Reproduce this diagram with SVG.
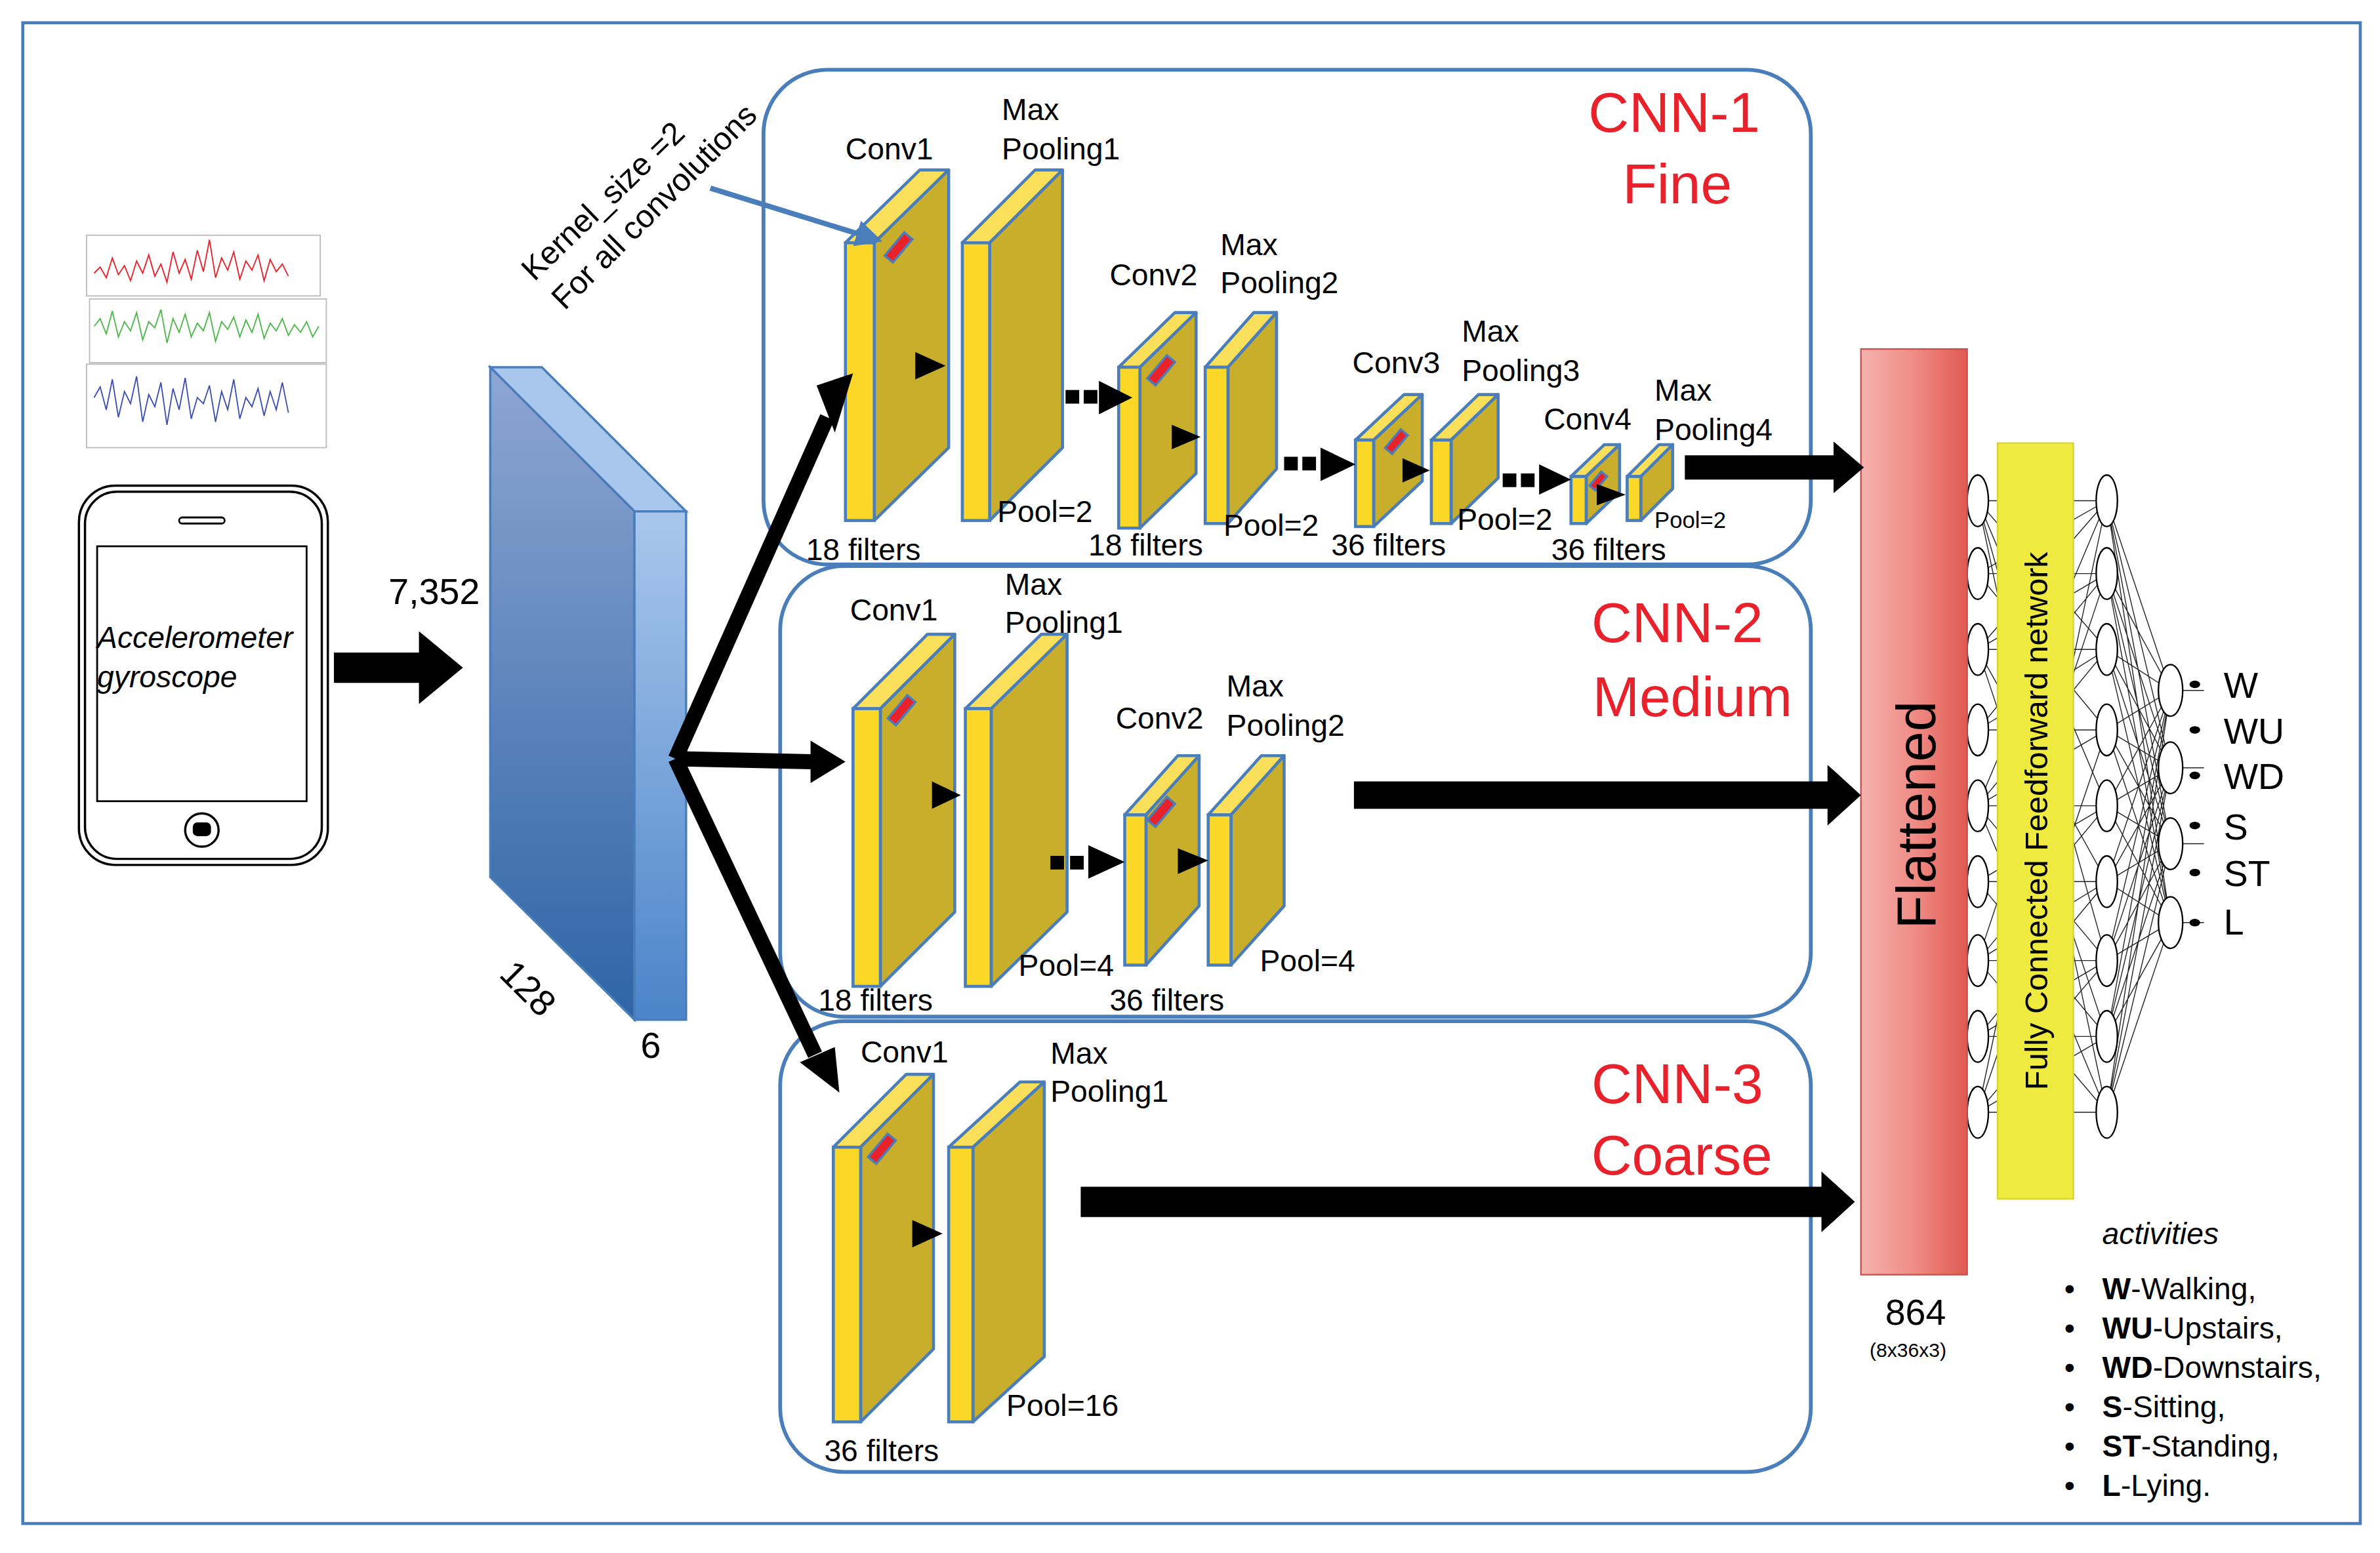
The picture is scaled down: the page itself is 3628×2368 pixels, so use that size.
<svg xmlns="http://www.w3.org/2000/svg" width="3628" height="2368" viewBox="0 0 3628 2368">
<defs>
<style>
.t{font-family:"Liberation Sans",Arial,sans-serif;fill:#000}
.l{font-size:20px}
.r{font-size:37px;fill:#E8212A;text-anchor:middle}
.top{fill:#FAE05A;stroke:#4A7EBB;stroke-width:2;stroke-linejoin:round}
.side{fill:#C9AE2C;stroke:#4A7EBB;stroke-width:2;stroke-linejoin:round}
.front{fill:#FBD827;stroke:#4A7EBB;stroke-width:2}
.panel{fill:none;stroke:#4A7EBB;stroke-width:2.5}
.ker{fill:#E8212A;stroke:#4A7EBB;stroke-width:1.5}
.nn{stroke:#222;stroke-width:0.6;fill:none}
.neu{fill:#fff;stroke:#000;stroke-width:1}
</style>
<linearGradient id="blueSide" x1="0" y1="0" x2="0" y2="1"><stop offset="0" stop-color="#8EA6D2"/><stop offset="1" stop-color="#2E64A6"/></linearGradient>
<linearGradient id="blueFront" x1="0" y1="0" x2="0" y2="1"><stop offset="0" stop-color="#A9C7EC"/><stop offset="1" stop-color="#4B84C9"/></linearGradient>
<linearGradient id="red" x1="0" y1="0" x2="1" y2="0"><stop offset="0" stop-color="#F6B2AE"/><stop offset="0.5" stop-color="#F08C86"/><stop offset="1" stop-color="#DF5A52"/></linearGradient>
<marker id="bh" viewBox="0 0 10 10" refX="8" refY="5" markerWidth="5" markerHeight="5" orient="auto"><path d="M0,0 L10,5 L0,10 z" fill="#4A7EBB"/></marker>
</defs>
<rect width="3628" height="2368" fill="#fff"/>
<g transform="scale(2.3138)">
<rect x="15" y="15" width="1540" height="989" fill="none" stroke="#4A7EBB" stroke-width="2"/>

<g id="graphs">
<rect x="57" y="155" width="154" height="40" fill="#fff" stroke="#bbb" stroke-width="0.8"/>
<rect x="59" y="197" width="156" height="42" fill="#fff" stroke="#bbb" stroke-width="0.8"/>
<rect x="57" y="240" width="158" height="55" fill="#fff" stroke="#bbb" stroke-width="0.8"/>
<polyline fill="none" stroke="#E8212A" stroke-width="0.8" points="62,180 66,176 70,183 74,170 78,181 82,175 86,185 90,172 94,180 98,168 102,182 106,174 110,186 114,166 118,180 122,171 126,184 130,165 134,179 138,158 142,183 146,170 150,178 154,166 158,184 162,172 166,178 170,168 174,185 178,171 182,179 186,174 190,182"/>
<polyline fill="none" stroke="#4CB84A" stroke-width="0.8" points="62,215 66,210 70,220 74,205 78,222 82,212 86,218 90,206 94,224 98,212 102,216 106,204 110,226 114,210 118,219 122,207 126,222 130,213 134,218 138,206 142,225 146,212 150,217 154,209 158,222 162,211 166,219 170,207 174,223 178,213 182,218 186,210 190,221 194,214 198,219 202,212 206,222 210,215"/>
<polyline fill="none" stroke="#3B4FB5" stroke-width="0.8" points="62,262 66,255 70,270 74,250 78,275 82,258 86,266 90,248 94,278 98,260 102,268 106,252 110,280 114,256 118,270 122,249 126,276 130,262 134,266 138,254 142,278 146,258 150,270 154,250 158,276 162,262 166,268 170,256 174,274 178,258 182,270 186,252 190,272"/>
</g>

<g id="phone">
<rect x="52" y="320" width="164" height="250" rx="24" fill="#fff" stroke="#000" stroke-width="1.5"/>
<rect x="56" y="324" width="156" height="242" rx="21" fill="none" stroke="#000" stroke-width="1.5"/>
<rect x="64" y="360" width="138" height="168" fill="#fff" stroke="#000" stroke-width="1.2"/>
<rect x="118" y="341" width="30" height="4" rx="2" fill="#fff" stroke="#000" stroke-width="1.2"/>
<circle cx="133" cy="547" r="11" fill="#fff" stroke="#000" stroke-width="1.5"/>
<rect x="127" y="542" width="12" height="9" rx="3" fill="#000"/>
<text class="t" x="64" y="427" font-size="20" font-style="italic">Accelerometer</text>
<text class="t" x="64" y="453" font-size="20" font-style="italic">gyroscope</text>
</g>

<g id="input">
<polygon points="323,242 357,242 452,337 418,337" fill="#A9C7EC" stroke="#4A7EBB" stroke-width="1.5"/>
<polygon points="323,242 418,337 418,672 323,578" fill="url(#blueSide)" stroke="#4A7EBB" stroke-width="1.5"/>
<rect x="418" y="337" width="34" height="335" fill="url(#blueFront)" stroke="#4A7EBB" stroke-width="1.5"/>
<text class="t" x="256" y="398" font-size="24">7,352</text>
<text class="t" x="0" y="0" font-size="24" transform="translate(328,643) rotate(45)">128</text>
<text class="t" x="422" y="697" font-size="24">6</text>
</g>

<g id="panels">
<rect class="panel" x="503" y="46" width="690" height="326" rx="42"/>
<rect class="panel" x="514" y="373" width="679" height="297" rx="42"/>
<rect class="panel" x="514" y="673" width="679" height="297" rx="42"/>
</g>

<g id="cnn1">
<polygon class="top" points="557,160 606,112 625,112 576,160"/><polygon class="side" points="576,160 625,112 625,295 576,343"/><rect class="front" x="557" y="160" width="19" height="183"/>
<polygon class="top" points="634,160 682,112 700,112 652,160"/><polygon class="side" points="652,160 700,112 700,295 652,343"/><rect class="front" x="634" y="160" width="18" height="183"/>
<polygon class="top" points="737,242 774,206 788,206 751,242"/><polygon class="side" points="751,242 788,206 788,312 751,348"/><rect class="front" x="737" y="242" width="14" height="106"/>
<polygon class="top" points="794,242 826,206 841,206 809,242"/><polygon class="side" points="809,242 841,206 841,309 809,345"/><rect class="front" x="794" y="242" width="15" height="103"/>
<polygon class="top" points="893,290 925,260 937,260 905,290"/><polygon class="side" points="905,290 937,260 937,317 905,347"/><rect class="front" x="893" y="290" width="12" height="57"/>
<polygon class="top" points="943,290 974,260 987,260 956,290"/><polygon class="side" points="956,290 987,260 987,315 956,345"/><rect class="front" x="943" y="290" width="13" height="55"/>
<polygon class="top" points="1035,314 1057,293 1067,293 1045,314"/><polygon class="side" points="1045,314 1067,293 1067,324 1045,345"/><rect class="front" x="1035" y="314" width="10" height="31"/>
<polygon class="top" points="1072,314 1093,293 1102,293 1081,314"/><polygon class="side" points="1081,314 1102,293 1102,322 1081,343"/><rect class="front" x="1072" y="314" width="9" height="29"/>
<rect class="ker" x="-3.5" y="-10" width="7" height="20" transform="translate(592,163) rotate(40)"/>
<rect class="ker" x="-3.5" y="-10" width="7" height="20" transform="translate(765,244) rotate(40)"/>
<rect class="ker" x="-3" y="-8" width="6" height="16" transform="translate(920,291) rotate(40)"/>
<rect class="ker" x="-2.5" y="-6" width="5" height="12" transform="translate(1053,317) rotate(40)"/>
<polygon points="603,232 623,241 603,250"/>
<polygon points="772,280 791,288 772,296"/>
<polygon points="924,302 942,310 924,318"/>
<polygon points="1052,319 1071,326 1052,333"/>
<rect x="702" y="257" width="9" height="9"/><rect x="714" y="257" width="9" height="9"/><polygon points="724,251 746,262 724,273"/>
<rect x="846" y="301" width="9" height="9"/><rect x="858" y="301" width="9" height="9"/><polygon points="870,295 893,306 870,317"/>
<rect x="990" y="312" width="9" height="9"/><rect x="1002" y="312" width="9" height="9"/><polygon points="1014,306 1035,316 1014,326"/>
<text class="t l" x="557" y="105">Conv1</text>
<text class="t l" x="660" y="79">Max</text><text class="t l" x="660" y="105">Pooling1</text>
<text class="t l" x="731" y="188">Conv2</text>
<text class="t l" x="804" y="168">Max</text><text class="t l" x="804" y="193">Pooling2</text>
<text class="t l" x="891" y="246">Conv3</text>
<text class="t l" x="963" y="225">Max</text><text class="t l" x="963" y="251">Pooling3</text>
<text class="t l" x="1017" y="283">Conv4</text>
<text class="t l" x="1090" y="264">Max</text><text class="t l" x="1090" y="290">Pooling4</text>
<text class="t l" x="657" y="344">Pool=2</text>
<text class="t l" x="531" y="369">18 filters</text>
<text class="t l" x="717" y="366">18 filters</text>
<text class="t l" x="806" y="353">Pool=2</text>
<text class="t l" x="877" y="366">36 filters</text>
<text class="t l" x="960" y="349">Pool=2</text>
<text class="t l" x="1022" y="369">36 filters</text>
<text class="t" x="1090" y="348" font-size="15">Pool=2</text>
<text class="t r" x="1103" y="87">CNN-1</text>
<text class="t r" x="1105" y="134">Fine</text>
</g>

<g id="cnn2">
<polygon class="top" points="562,467 611,418 629,418 580,467"/><polygon class="side" points="580,467 629,418 629,601 580,650"/><rect class="front" x="562" y="467" width="18" height="183"/>
<polygon class="top" points="636,467 686,418 703,418 653,467"/><polygon class="side" points="653,467 703,418 703,601 653,650"/><rect class="front" x="636" y="467" width="17" height="183"/>
<polygon class="top" points="741,537 776,498 790,498 755,537"/><polygon class="side" points="755,537 790,498 790,597 755,636"/><rect class="front" x="741" y="537" width="14" height="99"/>
<polygon class="top" points="796,537 831,498 846,498 811,537"/><polygon class="side" points="811,537 846,498 846,597 811,636"/><rect class="front" x="796" y="537" width="15" height="99"/>
<rect class="ker" x="-3.5" y="-10" width="7" height="20" transform="translate(594,468) rotate(40)"/>
<rect class="ker" x="-3.5" y="-10" width="7" height="20" transform="translate(765,535) rotate(40)"/>
<polygon points="614,515 633,524 614,533"/>
<polygon points="776,559 796,567 776,576"/>
<rect x="692" y="564" width="9" height="9"/><rect x="705" y="564" width="9" height="9"/><polygon points="717,557 741,568 717,579"/>
<text class="t l" x="560" y="409">Conv1</text>
<text class="t l" x="662" y="392">Max</text><text class="t l" x="662" y="417">Pooling1</text>
<text class="t l" x="735" y="480">Conv2</text>
<text class="t l" x="808" y="459">Max</text><text class="t l" x="808" y="485">Pooling2</text>
<text class="t l" x="539" y="666">18 filters</text>
<text class="t l" x="671" y="643">Pool=4</text>
<text class="t l" x="731" y="666">36 filters</text>
<text class="t l" x="830" y="640">Pool=4</text>
<text class="t r" x="1105" y="423">CNN-2</text>
<text class="t r" x="1115" y="472">Medium</text>
</g>

<g id="cnn3">
<polygon class="top" points="549,756 597,708 615,708 567,756"/><polygon class="side" points="567,756 615,708 615,889 567,937"/><rect class="front" x="549" y="756" width="18" height="181"/>
<polygon class="top" points="625,756 672,713 688,713 641,756"/><polygon class="side" points="641,756 688,713 688,894 641,937"/><rect class="front" x="625" y="756" width="16" height="181"/>
<rect class="ker" x="-3.5" y="-10" width="7" height="20" transform="translate(581,757) rotate(40)"/>
<polygon points="601,804 621,813 601,822"/>
<text class="t l" x="567" y="700">Conv1</text>
<text class="t l" x="692" y="701">Max</text><text class="t l" x="692" y="726">Pooling1</text>
<text class="t l" x="543" y="963">36 filters</text>
<text class="t l" x="663" y="933">Pool=16</text>
<text class="t r" x="1105" y="727">CNN-3</text>
<text class="t r" x="1108" y="774">Coarse</text>
</g>

<g id="kernelnote">
<text class="t" font-size="21" transform="translate(352,186) rotate(-44)">Kernel_size =2</text>
<text class="t" font-size="21" transform="translate(372,205) rotate(-45)">For all convolutions</text>
<line x1="468" y1="124" x2="578" y2="158" stroke="#4A7EBB" stroke-width="3.5" marker-end="url(#bh)"/>
</g>

<g id="network">
<g class="nn">
<path d="M1296,330 L1303,330 M1296,378 L1303,378 M1296,428 L1303,428 M1296,481 L1303,481 M1296,531 L1303,531 M1296,581 L1303,581 M1296,633 L1303,633 M1296,683 L1303,683 M1296,733 L1303,733"/>
<path d="M1303,330 L1388,330 L1303,378 L1388,378 L1303,428 L1388,428 L1303,481 L1388,481 L1303,531 L1388,531 L1303,581 L1388,581 L1303,633 L1388,633 L1303,683 L1388,683 L1303,733 L1388,733"/>
<path d="M1303,330 L1388,428 M1303,330 L1388,531 M1303,330 L1388,633 M1303,330 L1388,733 M1303,428 L1388,330 M1303,428 L1388,581 M1303,428 L1388,683 M1303,531 L1388,330 M1303,531 L1388,428 M1303,531 L1388,633 M1303,531 L1388,733 M1303,633 L1388,378 M1303,633 L1388,531 M1303,633 L1388,733 M1303,733 L1388,330 M1303,733 L1388,481 M1303,733 L1388,633 M1303,378 L1388,481 M1303,481 L1388,378 M1303,581 L1388,683 M1303,683 L1388,581"/>
<path d="M1388,330 L1430,455 M1388,330 L1430,506 M1388,330 L1430,556 M1388,330 L1430,608 M1388,378 L1430,455 M1388,378 L1430,506 M1388,378 L1430,556 M1388,378 L1430,608 M1388,428 L1430,455 M1388,428 L1430,506 M1388,428 L1430,556 M1388,428 L1430,608 M1388,481 L1430,455 M1388,481 L1430,506 M1388,481 L1430,556 M1388,481 L1430,608 M1388,531 L1430,455 M1388,531 L1430,506 M1388,531 L1430,556 M1388,531 L1430,608 M1388,581 L1430,455 M1388,581 L1430,506 M1388,581 L1430,556 M1388,581 L1430,608 M1388,633 L1430,455 M1388,633 L1430,506 M1388,633 L1430,556 M1388,633 L1430,608 M1388,683 L1430,455 M1388,683 L1430,506 M1388,683 L1430,556 M1388,683 L1430,608 M1388,733 L1430,455 M1388,733 L1430,506 M1388,733 L1430,556 M1388,733 L1430,608"/>
<path d="M1430,455 L1452,455 M1430,506 L1452,506 M1430,556 L1452,556 M1430,608 L1452,608"/>
</g>
<g class="neu">
<ellipse cx="1303" cy="330" rx="7" ry="17"/><ellipse cx="1303" cy="378" rx="7" ry="17"/><ellipse cx="1303" cy="428" rx="7" ry="17"/><ellipse cx="1303" cy="481" rx="7" ry="17"/><ellipse cx="1303" cy="531" rx="7" ry="17"/><ellipse cx="1303" cy="581" rx="7" ry="17"/><ellipse cx="1303" cy="633" rx="7" ry="17"/><ellipse cx="1303" cy="683" rx="7" ry="17"/><ellipse cx="1303" cy="733" rx="7" ry="17"/>
<ellipse cx="1388" cy="330" rx="7" ry="17"/><ellipse cx="1388" cy="378" rx="7" ry="17"/><ellipse cx="1388" cy="428" rx="7" ry="17"/><ellipse cx="1388" cy="481" rx="7" ry="17"/><ellipse cx="1388" cy="531" rx="7" ry="17"/><ellipse cx="1388" cy="581" rx="7" ry="17"/><ellipse cx="1388" cy="633" rx="7" ry="17"/><ellipse cx="1388" cy="683" rx="7" ry="17"/><ellipse cx="1388" cy="733" rx="7" ry="17"/>
<ellipse cx="1430" cy="455" rx="8" ry="17"/><ellipse cx="1430" cy="506" rx="8" ry="17"/><ellipse cx="1430" cy="556" rx="8" ry="17"/><ellipse cx="1430" cy="608" rx="8" ry="17"/>
</g>
<g fill="#000"><ellipse cx="1446" cy="451" rx="3.5" ry="2.5"/><ellipse cx="1446" cy="481" rx="3.5" ry="2.5"/><ellipse cx="1446" cy="511" rx="3.5" ry="2.5"/><ellipse cx="1446" cy="544" rx="3.5" ry="2.5"/><ellipse cx="1446" cy="575" rx="3.5" ry="2.5"/><ellipse cx="1446" cy="608" rx="3.5" ry="2.5"/></g>
<g class="t" font-size="24"><text x="1465" y="460">W</text><text x="1465" y="490">WU</text><text x="1465" y="520">WD</text><text x="1465" y="553">S</text><text x="1465" y="584">ST</text><text x="1465" y="616">L</text></g>
</g>

<g id="flattened">
<rect x="1226" y="230" width="70" height="610" fill="url(#red)" stroke="#C9504A" stroke-width="1"/>
<text class="t" font-size="36" text-anchor="middle" transform="translate(1275,537) rotate(-90)">Flattened</text>
<text class="t" x="1262" y="873" font-size="24" text-anchor="middle">864</text>
<text class="t" x="1257" y="894" font-size="13" text-anchor="middle">(8x36x3)</text>
</g>

<g id="fc">
<rect x="1316" y="292" width="50" height="498" fill="#EEEA3F" stroke="#D8D436" stroke-width="1"/>
<text class="t" font-size="21" text-anchor="middle" transform="translate(1349,541) rotate(-90)">Fully Connected  Feedforward network</text>
</g>

<g id="legend" class="t" font-size="20">
<text x="1385" y="820" font-style="italic">activities</text>
<text x="1360" y="856">•</text><text x="1385" y="856"><tspan font-weight="bold">W</tspan>-Walking,</text>
<text x="1360" y="882">•</text><text x="1385" y="882"><tspan font-weight="bold">WU</tspan>-Upstairs,</text>
<text x="1360" y="908">•</text><text x="1385" y="908"><tspan font-weight="bold">WD</tspan>-Downstairs,</text>
<text x="1360" y="934">•</text><text x="1385" y="934"><tspan font-weight="bold">S</tspan>-Sitting,</text>
<text x="1360" y="960">•</text><text x="1385" y="960"><tspan font-weight="bold">ST</tspan>-Standing,</text>
<text x="1360" y="986">•</text><text x="1385" y="986"><tspan font-weight="bold">L</tspan>-Lying.</text>
</g>

<g id="connectors" fill="#000">
<polygon points="220,430 276,430 276,416 305,440 276,464 276,450 220,450"/>
<line x1="445" y1="500" x2="545" y2="275" stroke="#000" stroke-width="10"/>
<polygon points="538,254 562,246 550,285"/>
<line x1="445" y1="500" x2="535" y2="502" stroke="#000" stroke-width="10"/>
<polygon points="534,488 557,502 534,516"/>
<line x1="445" y1="500" x2="537" y2="695" stroke="#000" stroke-width="10"/>
<polygon points="527,700 550,690 553,720"/>
<polygon points="1110,300 1208,300 1208,291 1228,308 1208,325 1208,316 1110,316"/>
<polygon points="892,515 1204,515 1204,504 1226,524 1204,544 1204,533 892,533"/>
<polygon points="712,782 1200,782 1200,772 1222,792 1200,812 1200,802 712,802"/>
</g>
</g>
</svg>
